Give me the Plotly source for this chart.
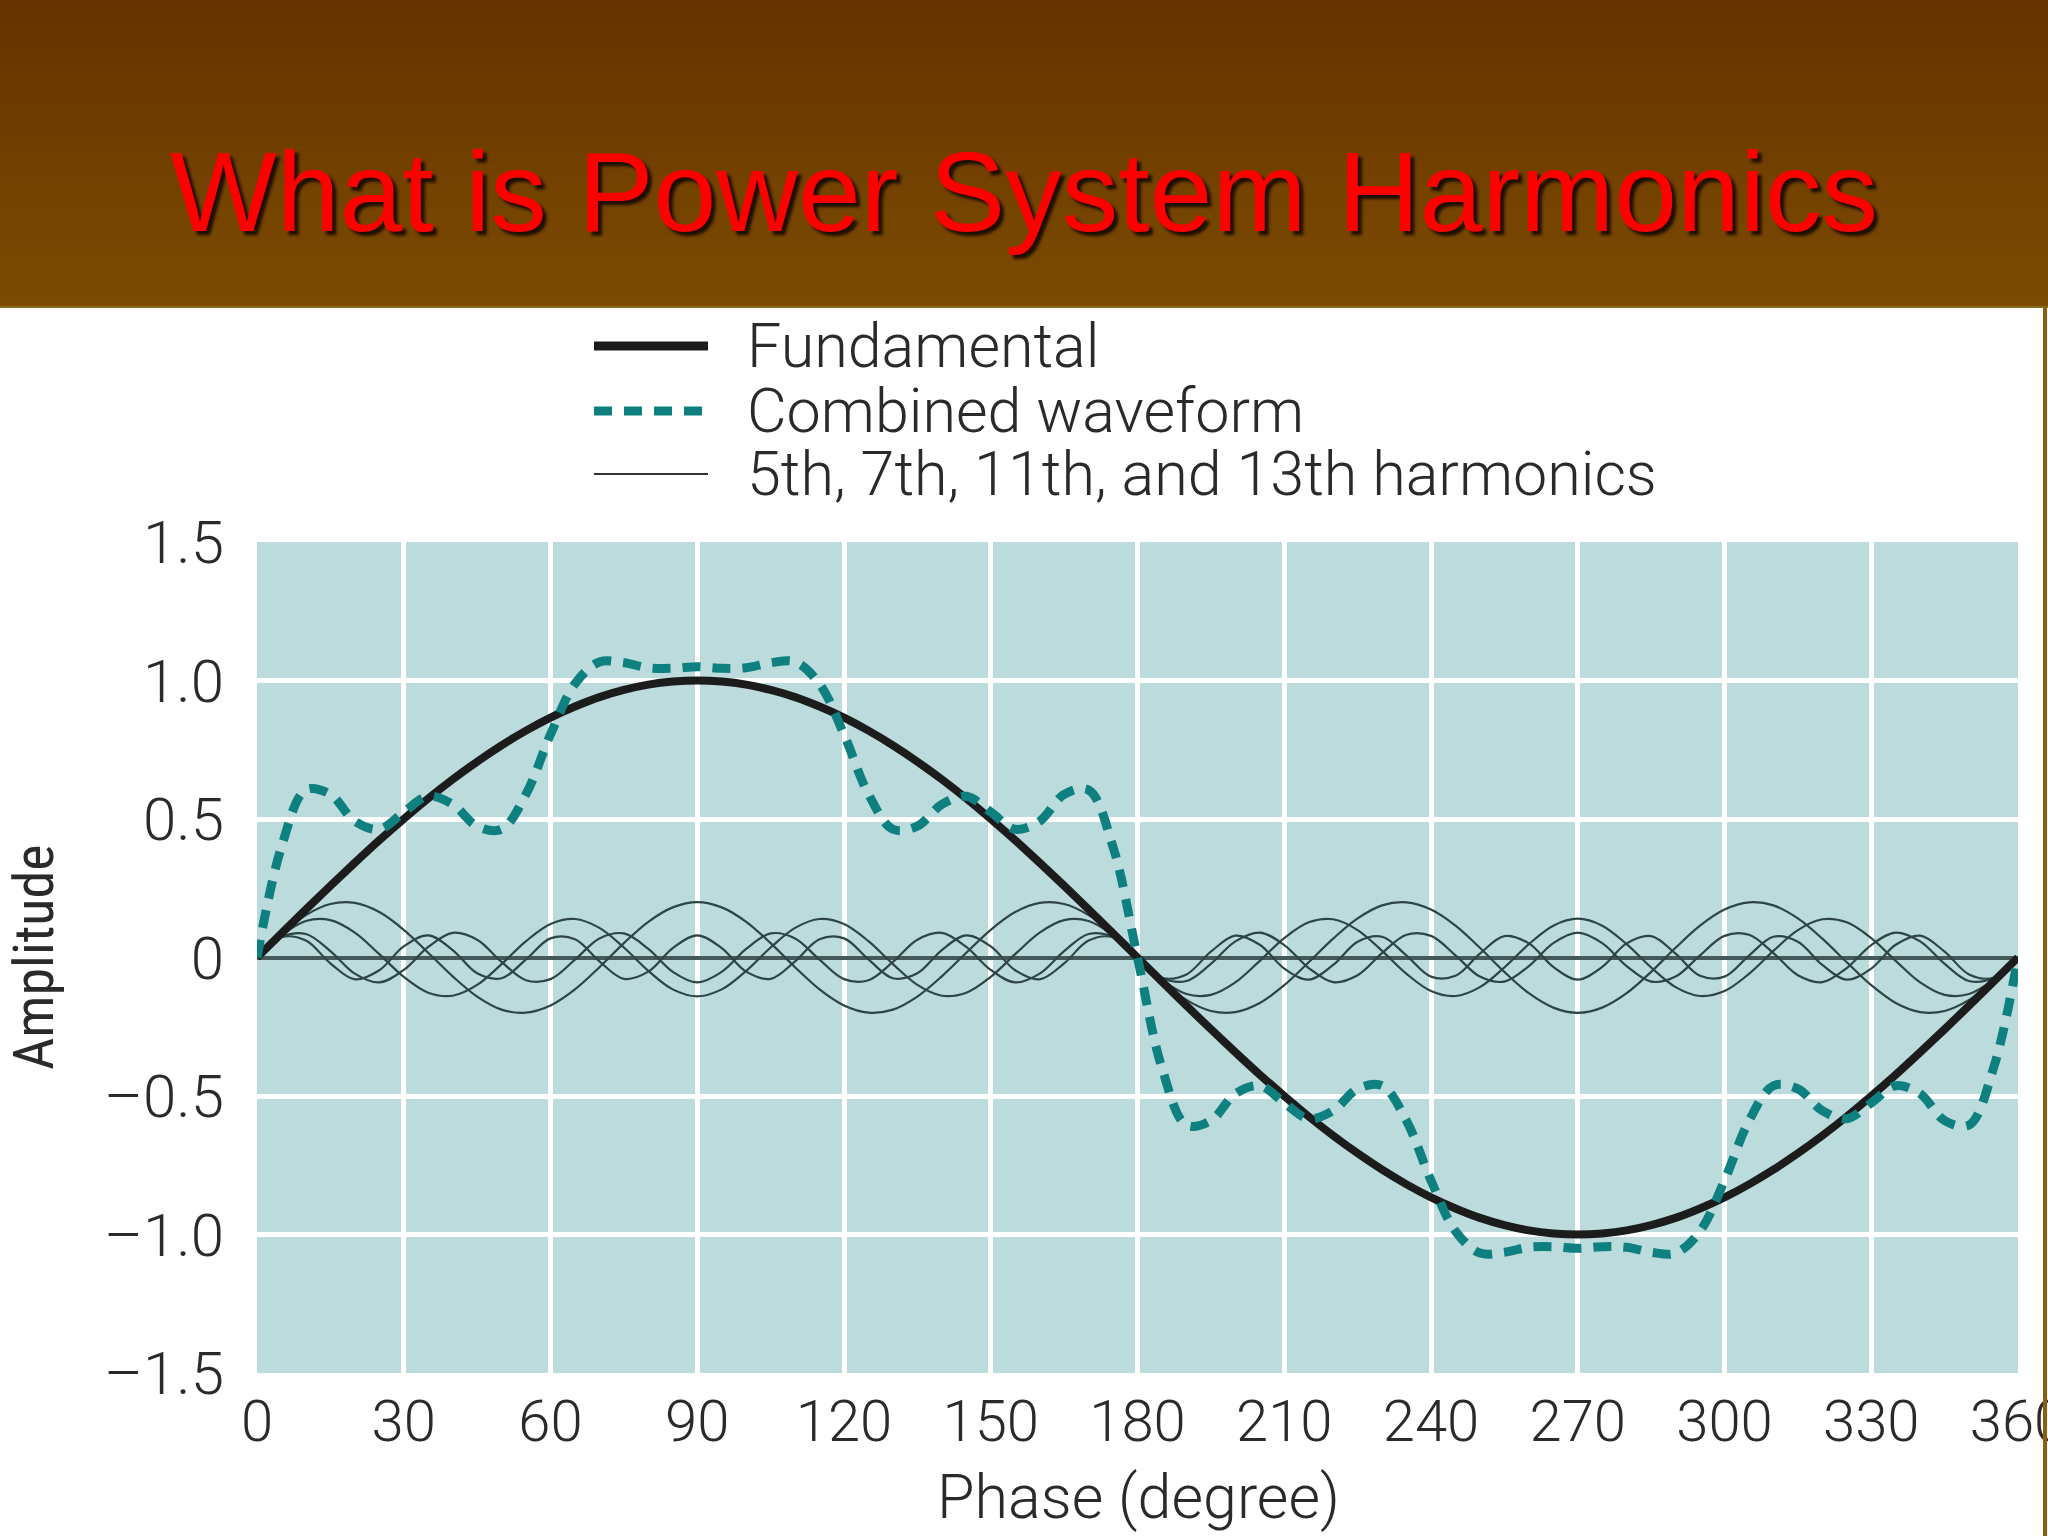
import plotly.graph_objects as go

# phase grid in degrees
PHASE = list(range(0, 361, 5))

# values, every 5 degrees
FUNDAMENTAL = [0, 0.087, 0.174, 0.259, 0.342, 0.423, 0.5, 0.574, 0.643, 0.707, 0.766, 0.819, 0.866, 0.906, 0.94, 0.966, 0.985, 0.996, 1.0,
               0.996, 0.985, 0.966, 0.94, 0.906, 0.866, 0.819, 0.766, 0.707, 0.643, 0.574, 0.5, 0.423, 0.342, 0.259, 0.174, 0.087, 0,
               -0.087, -0.174, -0.259, -0.342, -0.423, -0.5, -0.574, -0.643, -0.707, -0.766, -0.819, -0.866, -0.906, -0.94, -0.966, -0.985, -0.996, -1.0,
               -0.996, -0.985, -0.966, -0.94, -0.906, -0.866, -0.819, -0.766, -0.707, -0.643, -0.574, -0.5, -0.423, -0.342, -0.259, -0.174, -0.087, 0]

COMBINED = [0, 0.399, 0.605, 0.589, 0.492, 0.463, 0.525, 0.582, 0.553, 0.474, 0.463, 0.59, 0.805, 0.988, 1.067, 1.064, 1.046, 1.044, 1.05,
            1.044, 1.046, 1.064, 1.067, 0.988, 0.805, 0.59, 0.463, 0.474, 0.553, 0.582, 0.525, 0.463, 0.492, 0.589, 0.605, 0.399, 0,
            -0.399, -0.605, -0.589, -0.492, -0.463, -0.525, -0.582, -0.553, -0.474, -0.463, -0.59, -0.805, -0.988, -1.067, -1.064, -1.046, -1.044, -1.05,
            -1.044, -1.046, -1.064, -1.067, -0.988, -0.805, -0.59, -0.463, -0.474, -0.553, -0.582, -0.525, -0.463, -0.492, -0.589, -0.605, -0.399, 0]

H5 = [0, 0.085, 0.153, 0.193, 0.197, 0.164, 0.1, 0.017, -0.068, -0.141, -0.188, -0.199, -0.173, -0.115, -0.035, 0.052, 0.129, 0.181, 0.2,
      0.181, 0.129, 0.052, -0.035, -0.115, -0.173, -0.199, -0.188, -0.141, -0.068, 0.017, 0.1, 0.164, 0.197, 0.193, 0.153, 0.085, 0,
      -0.085, -0.153, -0.193, -0.197, -0.164, -0.1, -0.017, 0.068, 0.141, 0.188, 0.199, 0.173, 0.115, 0.035, -0.052, -0.129, -0.181, -0.2,
      -0.181, -0.129, -0.052, 0.035, 0.115, 0.173, 0.199, 0.188, 0.141, 0.068, -0.017, -0.1, -0.164, -0.197, -0.193, -0.153, -0.085, 0]

H7 = [0, 0.08, 0.132, 0.135, 0.09, 0.012, -0.07, -0.127, -0.138, -0.099, -0.024, 0.059, 0.121, 0.139, 0.107, 0.036, -0.048, -0.115, -0.14,
      -0.115, -0.048, 0.036, 0.107, 0.139, 0.121, 0.059, -0.024, -0.099, -0.138, -0.127, -0.07, 0.012, 0.09, 0.135, 0.132, 0.08, 0,
      -0.08, -0.132, -0.135, -0.09, -0.012, 0.07, 0.127, 0.138, 0.099, 0.024, -0.059, -0.121, -0.139, -0.107, -0.036, 0.048, 0.115, 0.14,
      0.115, 0.048, -0.036, -0.107, -0.139, -0.121, -0.059, 0.024, 0.099, 0.138, 0.127, 0.07, -0.012, -0.09, -0.135, -0.132, -0.08, 0]

H11 = [0, 0.074, 0.085, 0.023, -0.058, -0.09, -0.045, 0.038, 0.089, 0.064, -0.016, -0.082, -0.078, -0.008, 0.069, 0.087, 0.031, -0.052, -0.09,
       -0.052, 0.031, 0.087, 0.069, -0.008, -0.078, -0.082, -0.016, 0.064, 0.089, 0.038, -0.045, -0.09, -0.058, 0.023, 0.085, 0.074, 0,
       -0.074, -0.085, -0.023, 0.058, 0.09, 0.045, -0.038, -0.089, -0.064, 0.016, 0.082, 0.078, 0.008, -0.069, -0.087, -0.031, 0.052, 0.09,
       0.052, -0.031, -0.087, -0.069, 0.008, 0.078, 0.082, 0.016, -0.064, -0.089, -0.038, 0.045, 0.09, 0.058, -0.023, -0.085, -0.074, 0]

H13 = [0, 0.073, 0.061, -0.021, -0.079, -0.046, 0.04, 0.08, 0.027, -0.057, -0.075, -0.007, 0.069, 0.066, -0.014, -0.077, -0.051, 0.034, 0.08,
       0.034, -0.051, -0.077, -0.014, 0.066, 0.069, -0.007, -0.075, -0.057, 0.027, 0.08, 0.04, -0.046, -0.079, -0.021, 0.061, 0.073, 0,
       -0.073, -0.061, 0.021, 0.079, 0.046, -0.04, -0.08, -0.027, 0.057, 0.075, 0.007, -0.069, -0.066, 0.014, 0.077, 0.051, -0.034, -0.08,
       -0.034, 0.051, 0.077, 0.014, -0.066, -0.069, 0.007, 0.075, 0.057, -0.027, -0.08, -0.04, 0.046, 0.079, 0.021, -0.061, -0.073, 0]

HARMONICS = {"5th harmonic": H5, "7th harmonic": H7, "11th harmonic": H11, "13th harmonic": H13}

X_TICKS = list(range(0, 361, 30))
Y_TICKS = [1.5, 1.0, 0.5, 0, -0.5, -1.0, -1.5]
Y_TICK_TEXT = ["1.5", "1.0", "0.5", "0", "\u20130.5", "\u20131.0", "\u20131.5"]

LEGEND_LABELS = ["Fundamental", "Combined waveform", "5th, 7th, 11th, and 13th harmonics"]
TITLE = "What is Power System Harmonics"

# page geometry (px)
W, H = 2048, 1536
L, R, T, B = 257, 2018, 542, 1373
BANNER_H = 307


def px(x):
    return (x - L) / (R - L)


def py(y):
    return (B - y) / (B - T)


TEAL = "#0f8080"
TEXT = "#2a2a2a"
FONT = "Roboto, Liberation Sans, Arial, sans-serif"

fig = go.Figure()

for name, vals in HARMONICS.items():
    fig.add_trace(go.Scatter(x=PHASE, y=vals, name=name, mode="lines",
                             line=dict(color="#2e4546", width=2.2, shape="spline", smoothing=1.0)))

fig.add_trace(go.Scatter(x=PHASE, y=FUNDAMENTAL, name="Fundamental", mode="lines",
                         line=dict(color="#1c1c1c", width=8, shape="spline", smoothing=1.0)))
fig.add_trace(go.Scatter(x=PHASE, y=COMBINED, name="Combined waveform", mode="lines",
                         line=dict(color=TEAL, width=9, dash="18px,12px", shape="spline", smoothing=1.0)))

shapes = []
# brown banner with a soft vertical gradient (bands overlap to avoid seams)
n = 40
top_c, bot_c = (102, 51, 0), (124, 75, 2)
for i in range(n):
    f = i / (n - 1)
    c = tuple(round(top_c[k] + (bot_c[k] - top_c[k]) * f) for k in range(3))
    y_top = BANNER_H * i / n - (2 if i == 0 else 0)
    y_bot = min(BANNER_H * (i + 1) / n + 3, BANNER_H)
    shapes.append(dict(type="rect", xref="paper", yref="paper",
                       x0=px(-2), x1=px(W + 2), y0=py(y_bot), y1=py(y_top),
                       fillcolor="rgb(%d,%d,%d)" % c, line=dict(width=0), layer="above"))
shapes.append(dict(type="line", xref="paper", yref="paper", x0=px(0), x1=px(W),
                   y0=py(BANNER_H), y1=py(BANNER_H), line=dict(color="#8a6b1c", width=2)))
shapes.append(dict(type="line", xref="paper", yref="paper", x0=px(2045), x1=px(2045),
                   y0=py(BANNER_H), y1=py(H), line=dict(color="#8b5e0b", width=4)))

# hand drawn legend samples
rows = [346, 411, 474]
shapes.append(dict(type="line", xref="paper", yref="paper", x0=px(594), x1=px(708),
                   y0=py(rows[0]), y1=py(rows[0]), line=dict(color="#1c1c1c", width=9)))
shapes.append(dict(type="line", xref="paper", yref="paper", x0=px(594), x1=px(708),
                   y0=py(rows[1]), y1=py(rows[1]), line=dict(color=TEAL, width=9, dash="18px,12px")))
shapes.append(dict(type="line", xref="paper", yref="paper", x0=px(594), x1=px(708),
                   y0=py(rows[2]), y1=py(rows[2]), line=dict(color="#333333", width=2)))

annotations = []
for lab, ry in zip(LEGEND_LABELS, rows):
    annotations.append(dict(text=lab, xref="paper", yref="paper", x=px(745), y=py(ry),
                            xanchor="left", yanchor="middle", showarrow=False, height=62,
                            font=dict(family=FONT, size=61, color=TEXT, weight=300)))

annotations.append(dict(text="Phase (degree)", xref="paper", yref="paper", x=px(1138), y=py(1497),
                        xanchor="center", yanchor="middle", showarrow=False,
                        font=dict(family=FONT, size=61, color=TEXT, weight=300)))
annotations.append(dict(text="Amplitude", xref="paper", yref="paper", x=px(34), y=py(958),
                        xanchor="center", yanchor="middle", textangle=-90, showarrow=False,
                        font=dict(family="Liberation Sans Narrow, Roboto Condensed, Roboto, sans-serif",
                                  size=56, color=TEXT)))

fig.update_layout(
    width=W, height=H,
    margin=dict(l=L, r=W - R, t=T, b=H - B, autoexpand=False),
    paper_bgcolor="white",
    plot_bgcolor="#bcdbdd",
    showlegend=False,
    shapes=shapes,
    annotations=annotations,
    title=dict(text=TITLE, x=0.5, xref="container", xanchor="center",
               y=1 - 191 / H, yref="container", yanchor="middle",
               font=dict(family="Liberation Sans, Arial, sans-serif", size=113, color="#ff0000",
                         shadow="4px 4px 3px rgba(25,12,0,0.95)")),
)

fig.update_xaxes(range=[0, 360], tickvals=X_TICKS, showgrid=True, gridcolor="white", gridwidth=5,
                 zeroline=False, showline=False, ticks="", ticklabelstandoff=9,
                 ticklabeloverflow="allow", automargin=False,
                 tickfont=dict(family=FONT, size=58, color=TEXT, weight=300))
fig.update_yaxes(range=[-1.5, 1.5], tickvals=Y_TICKS, ticktext=Y_TICK_TEXT, showgrid=True,
                 gridcolor="white", gridwidth=5, zeroline=True, zerolinecolor="#46595a", zerolinewidth=4,
                 showline=False, ticks="outside", ticklen=20, tickcolor="rgba(0,0,0,0)", automargin=False,
                 tickfont=dict(family=FONT, size=60, color=TEXT, weight=300))

fig.write_html("out.html", config={"displayModeBar": False},
               post_script="document.body.style.margin='0px';document.body.style.overflow='hidden';")
